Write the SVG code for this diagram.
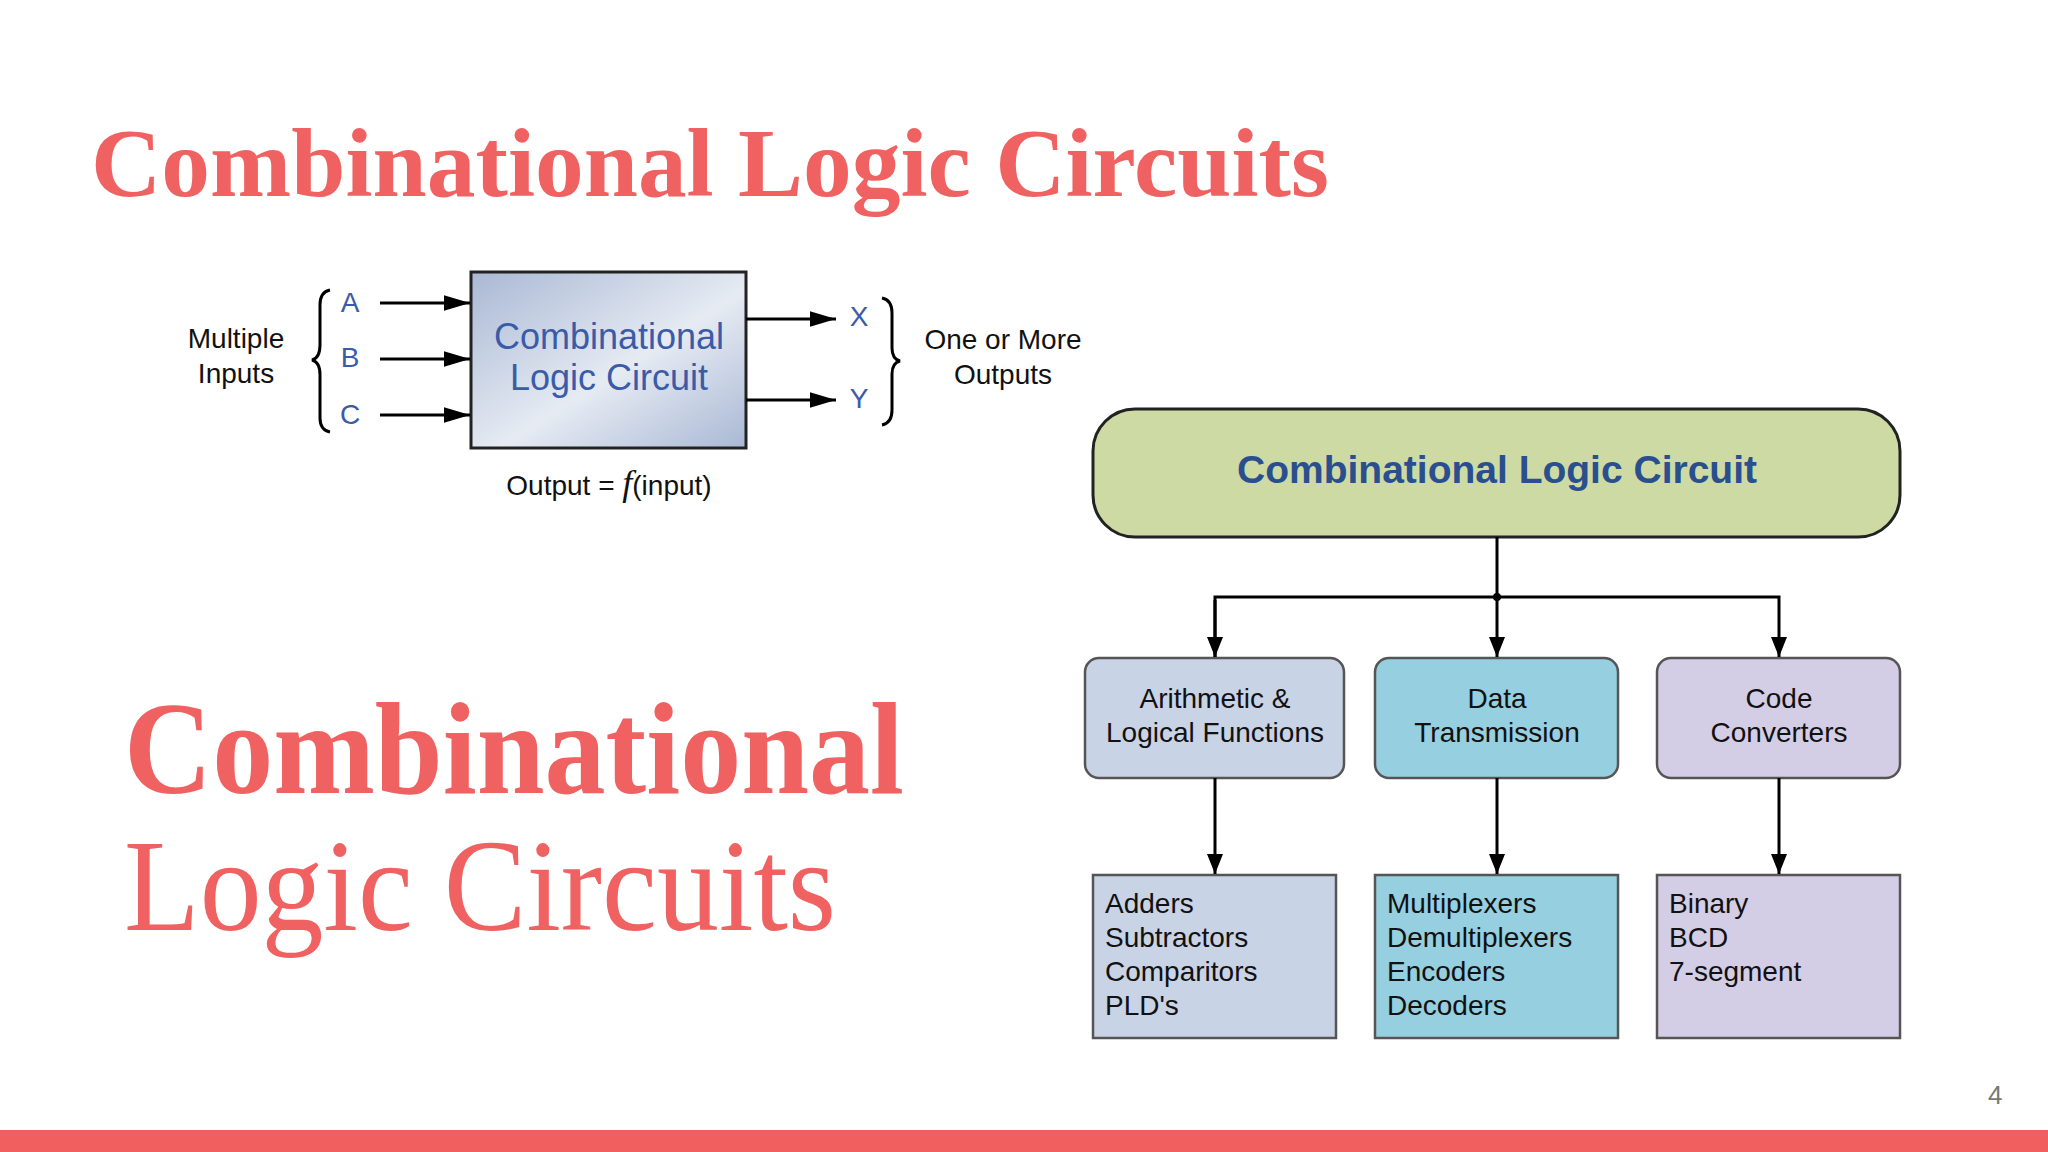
<svg xmlns="http://www.w3.org/2000/svg" width="2048" height="1152" viewBox="0 0 2048 1152">
<defs>
<linearGradient id="g" x1="0" y1="0" x2="1" y2="1"><stop offset="0" stop-color="#a9b8d4"/><stop offset="0.55" stop-color="#e6ebf3"/><stop offset="1" stop-color="#a9b8d4"/></linearGradient>
<marker id="ab" viewBox="0 0 10 10" refX="10" refY="5" markerWidth="20" markerHeight="20" markerUnits="userSpaceOnUse" orient="auto"><path d="M0,1 L10,5 L0,9 z" fill="#000"/></marker>
<marker id="as" viewBox="0 0 10 10" refX="10" refY="5" markerWidth="26" markerHeight="26" markerUnits="userSpaceOnUse" orient="auto"><path d="M0,2 L10,5 L0,8 z" fill="#000"/></marker>
</defs>
<style>
.s{font-family:"Liberation Sans",Arial,sans-serif;fill:#111;font-size:28px}
.c{text-anchor:middle}
.bl{fill:#3a5ca8}
.big{font-size:36px}
.t{font-family:"Liberation Serif","Times New Roman",serif;fill:#f06262}
.ln{stroke:#000;stroke-width:3;fill:none}
.bx{stroke:#555;stroke-width:2.5}
</style>
<rect width="2048" height="1152" fill="#fff"/>
<text class="t" x="91" y="196" font-size="98" font-weight="bold" textLength="1238" lengthAdjust="spacingAndGlyphs">Combinational Logic Circuits</text>
<text class="t" x="124" y="793" font-size="132" font-weight="bold" textLength="780" lengthAdjust="spacingAndGlyphs">Combinational</text>
<text class="t" x="124" y="930" font-size="132" textLength="712" lengthAdjust="spacingAndGlyphs">Logic Circuits</text>
<rect x="0" y="1130" width="2048" height="22" fill="#f25f5f"/>
<text class="s" x="1988" y="1104" style="fill:#777;font-size:26px">4</text>

<g id="block">
<rect x="471" y="272" width="275" height="176" fill="url(#g)" stroke="#222" stroke-width="3"/>
<text class="s c bl big" x="609" y="349">Combinational</text>
<text class="s c bl big" x="609" y="390">Logic Circuit</text>
<text class="s c" x="609" y="495">Output = <tspan font-family="Liberation Serif" font-style="italic" style="font-size:36px">f</tspan>(input)</text>
</g>
<g id="inputs">
<text class="s c" x="236" y="348">Multiple</text>
<text class="s c" x="236" y="383">Inputs</text>
<path class="ln" stroke-width="2" d="M330,290 Q320,292 320,305 V345 Q320,358 312,360 Q320,362 320,375 V418 Q320,430 330,432"/>
<text class="s c bl" x="350" y="312">A</text>
<text class="s c bl" x="350" y="367">B</text>
<text class="s c bl" x="350" y="424">C</text>
</g>
<g id="outputs">
<text class="s c bl" x="859" y="326">X</text>
<text class="s c bl" x="859" y="408">Y</text>
<path class="ln" stroke-width="2" d="M882,298 Q892,300 892,313 V348 Q892,359 900,361 Q892,363 892,374 V410 Q892,423 882,425"/>
<text class="s c" x="1003" y="349">One or More</text>
<text class="s c" x="1003" y="384">Outputs</text>
</g>

<g id="root">
<rect x="1093" y="409" width="807" height="128" rx="42" fill="#cddaa4" stroke="#222" stroke-width="3"/>
<text class="s c" x="1497" y="483" style="fill:#2a4f8f;font-size:39px;font-weight:bold">Combinational Logic Circuit</text>
</g>
<g id="arith">
<rect class="bx" x="1085" y="658" width="259" height="120" rx="14" fill="#c9d3e6"/>
<text class="s c" x="1215" y="708">Arithmetic &amp;</text>
<text class="s c" x="1215" y="742">Logical Functions</text>
</g>
<g id="data">
<rect class="bx" x="1375" y="658" width="243" height="120" rx="14" fill="#96cfdf"/>
<text class="s c" x="1497" y="708">Data</text>
<text class="s c" x="1497" y="742">Transmission</text>
</g>
<g id="code">
<rect class="bx" x="1657" y="658" width="243" height="120" rx="14" fill="#d4cde6"/>
<text class="s c" x="1779" y="708">Code</text>
<text class="s c" x="1779" y="742">Converters</text>
</g>
<g id="arithlist">
<rect class="bx" x="1093" y="875" width="243" height="163" fill="#c9d3e6"/>
<text class="s" x="1105" y="913">Adders</text><text class="s" x="1105" y="947">Subtractors</text><text class="s" x="1105" y="981">Comparitors</text><text class="s" x="1105" y="1015">PLD's</text>
</g>
<g id="datalist">
<rect class="bx" x="1375" y="875" width="243" height="163" fill="#96cfdf"/>
<text class="s" x="1387" y="913">Multiplexers</text><text class="s" x="1387" y="947">Demultiplexers</text><text class="s" x="1387" y="981">Encoders</text><text class="s" x="1387" y="1015">Decoders</text>
</g>
<g id="codelist">
<rect class="bx" x="1657" y="875" width="243" height="163" fill="#d4cde6"/>
<text class="s" x="1669" y="913">Binary</text><text class="s" x="1669" y="947">BCD</text><text class="s" x="1669" y="981">7-segment</text>
</g>

<g id="connectors">
<line class="ln" stroke-width="2.5" x1="380" y1="303" x2="470" y2="303" marker-end="url(#as)"/>
<line class="ln" stroke-width="2.5" x1="380" y1="359" x2="470" y2="359" marker-end="url(#as)"/>
<line class="ln" stroke-width="2.5" x1="380" y1="415" x2="470" y2="415" marker-end="url(#as)"/>
<line class="ln" stroke-width="2.5" x1="746" y1="319" x2="836" y2="319" marker-end="url(#as)"/>
<line class="ln" stroke-width="2.5" x1="746" y1="400" x2="836" y2="400" marker-end="url(#as)"/>
<line class="ln" x1="1497" y1="537" x2="1497" y2="657" marker-end="url(#ab)"/>
<path class="ln" d="M1215,657 V597 H1779 V657" marker-end="url(#ab)"/>
<line class="ln" x1="1215" y1="600" x2="1215" y2="657" marker-end="url(#ab)"/>
<circle cx="1497" cy="597" r="4" fill="#000"/>
<line class="ln" x1="1215" y1="778" x2="1215" y2="874" marker-end="url(#ab)"/>
<line class="ln" x1="1497" y1="778" x2="1497" y2="874" marker-end="url(#ab)"/>
<line class="ln" x1="1779" y1="778" x2="1779" y2="874" marker-end="url(#ab)"/>
</g>
</svg>
